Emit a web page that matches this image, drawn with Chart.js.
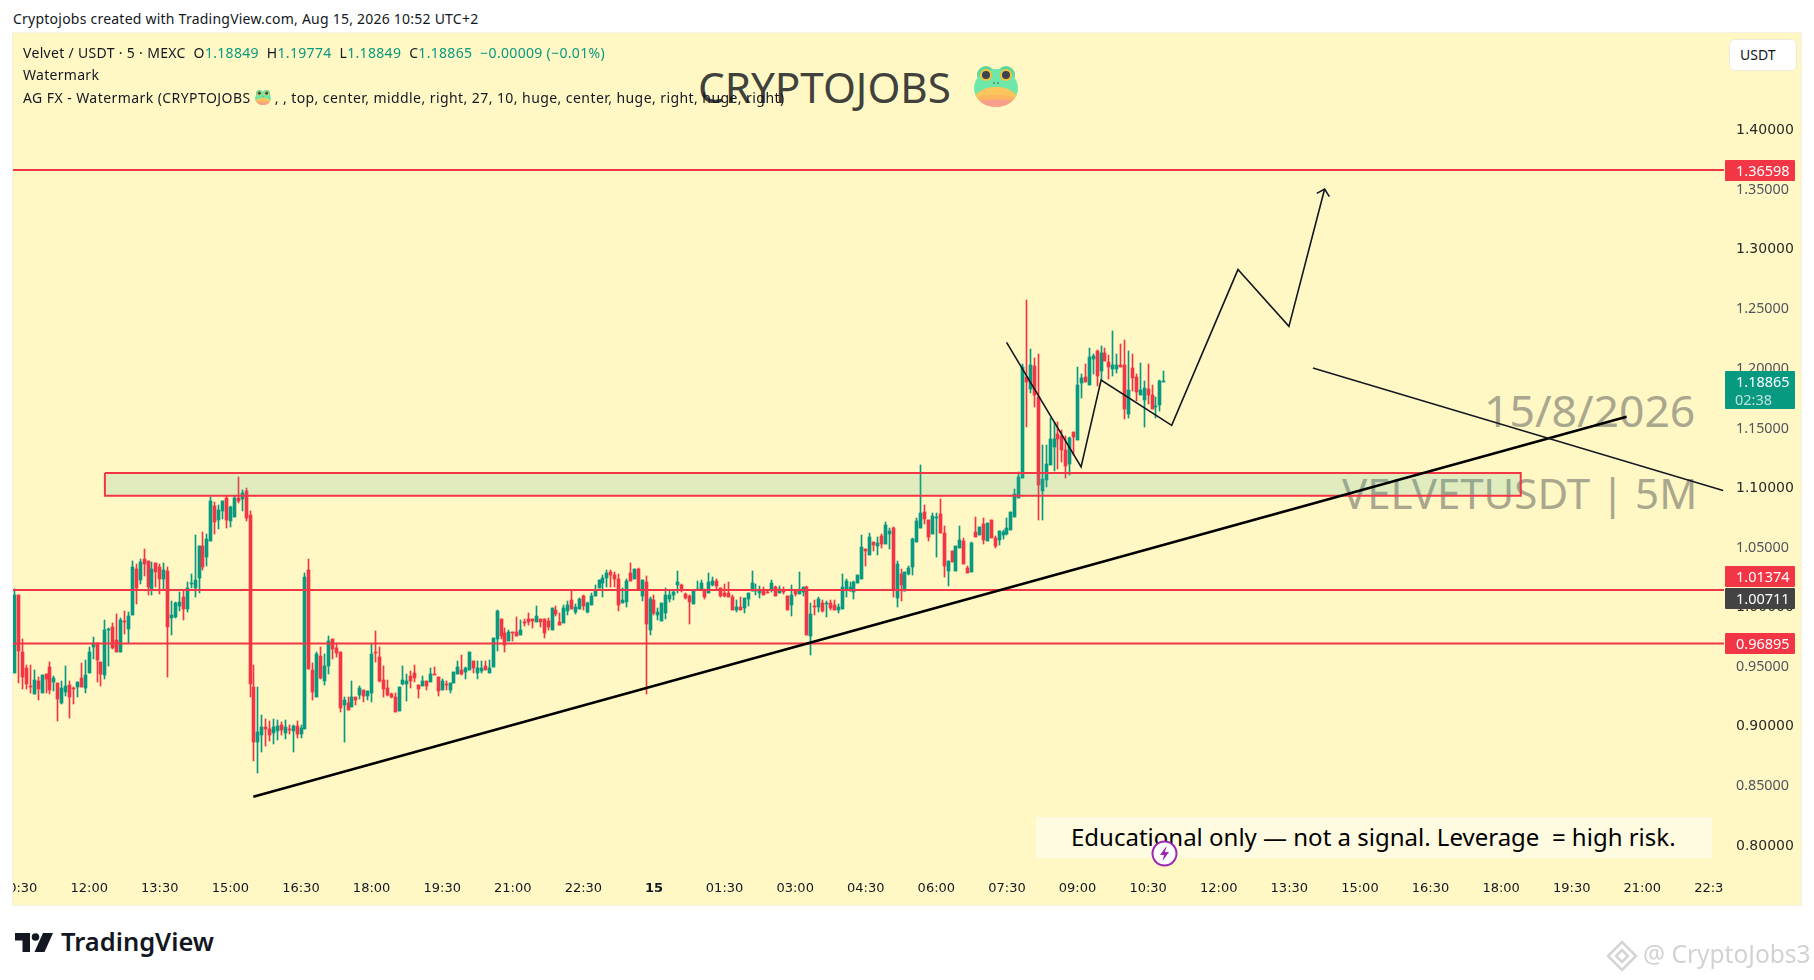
<!DOCTYPE html>
<html><head><meta charset="utf-8">
<script src="https://cdn.jsdelivr.net/npm/chart.js@4"></script>
<style>
html,body{margin:0;padding:0;background:#fff;width:1814px;height:980px;overflow:hidden}
.t{position:absolute;white-space:pre;line-height:1;font-family:"Noto Sans",sans-serif;color:#131722}
#panel{position:absolute;left:13px;top:33px;width:1788px;height:872px;background:#fff8c4;box-shadow:0 0 0 1px #f4f2e6}
canvas{position:absolute;left:13px;top:33px}
.b{position:absolute;left:1725px;width:70px;color:#fff;font:14.5px "Noto Sans",sans-serif;text-align:left;box-sizing:border-box;padding-left:11px;border-radius:1px}
.up{color:#089981}
</style></head><body>
<div id="panel"></div>
<div class="t" style="left:13px;top:12px;font-size:14px;letter-spacing:.23px" id="hdr">Cryptojobs created with TradingView.com, Aug 15, 2026 10:52 UTC+2</div>
<div class="t" style="left:698px;top:66px;font-size:42.2px;color:#40413c">CRYPTOJOBS</div>
<div class="t" style="left:1484px;top:388px;font-size:44.5px;color:#a9a78e">15/8/2026</div>
<div class="t" style="left:1342px;top:472px;font-size:42px;color:#a9a78e">VELVETUSDT | 5M</div>
<canvas id="c" width="1788" height="872" style="width:1788px;height:872px"></canvas>
<div style="position:absolute;left:1724px;top:875px;width:77px;height:30px;background:#fff8c4"></div>
<div class="t" style="left:23px;top:46px;font-size:14px;letter-spacing:.32px">Velvet / USDT · 5 · MEXC  O<span class="up">1.18849</span>  H<span class="up">1.19774</span>  L<span class="up">1.18849</span>  C<span class="up">1.18865</span>  <span class="up">−0.00009 (−0.01%)</span></div>
<div class="t" style="left:23px;top:68px;font-size:14px;letter-spacing:.3px">Watermark</div>
<div class="t" style="left:23px;top:90px;font-size:14px;letter-spacing:.43px">AG FX - Watermark (CRYPTOJOBS <svg width="16" height="15" viewBox="0 0 44 41" style="vertical-align:-2px"><use href="#frog"/></svg> , , top, center, middle, right, 27, 10, huge, center, huge, right, huge, right)</div>
<svg style="position:absolute;left:974px;top:66px" width="44" height="41" viewBox="0 0 44 41">
<defs><g id="frog"><clipPath id="fc"><ellipse cx="22" cy="22" rx="22" ry="19"/></clipPath>
<circle cx="12" cy="9" r="9" fill="#5fd59a"/><circle cx="32" cy="9" r="9" fill="#5fd59a"/>
<ellipse cx="22" cy="22" rx="22" ry="19" fill="#6ee7a8"/>
<g clip-path="url(#fc)"><path d="M0 30 Q10 20 22 21 Q34 20 44 30 V41 H0Z" fill="#fcc65c"/><path d="M0 31 Q22 27 44 31 V41 H0Z" fill="#fbb65f"/><path d="M0 35 Q22 32 44 35 V41 H0Z" fill="#f9a08c"/></g>
<circle cx="12" cy="9" r="6" fill="#f2c23e"/><circle cx="32" cy="9" r="6" fill="#f2c23e"/><circle cx="12" cy="9" r="4" fill="#3d4450"/><circle cx="32" cy="9" r="4" fill="#3d4450"/>
<circle cx="20" cy="17" r=".7" fill="#333"/><circle cx="24" cy="17" r=".7" fill="#333"/></g></defs>
<use href="#frog"/></svg>
<div style="position:absolute;left:1729px;top:39px;width:68px;height:32px;background:#fff;border:1px solid #eeeadb;border-radius:6px;box-sizing:border-box"></div>
<div class="t" style="left:1740px;top:48px;font-size:14px">USDT</div>
<div style="position:absolute;left:1036px;top:817px;width:676px;height:41px;background:#fffbe0"></div>
<div class="t" style="left:1071px;top:825px;font-size:24px;color:#000">Educational only — not a signal. Leverage  = high risk.</div>
<svg style="position:absolute;left:1151px;top:840px" width="27" height="27" viewBox="0 0 27 27"><circle cx="13.5" cy="13.5" r="12" fill="#fff" stroke="#9c27b0" stroke-width="2"/><path d="M15.5 6 L9 15 H13 L11.5 21 L18 12 H14Z" fill="#9c27b0"/></svg>
<div id="badges"></div>
<svg style="position:absolute;left:15px;top:933px" width="38" height="20" viewBox="0 0 38 20"><path d="M0 0H15V19H7.5V7.5H0Z" fill="#131722"/><circle cx="20.5" cy="4" r="3.8" fill="#131722"/><path d="M28 0H38L29.5 19H19.5Z" fill="#131722"/></svg>
<div class="t" style="left:61px;top:929px;font-size:25.5px;font-weight:600;color:#131722">TradingView</div>
<svg style="position:absolute;left:1606px;top:940px" width="32" height="32" viewBox="0 0 32 32" fill="none" stroke="#d4d4d4" stroke-width="2.5"><path d="M16 2 L30 16 L16 30 L2 16Z M16 10 L22 16 L16 22 L10 16Z"/></svg>
<div class="t" style="left:1643px;top:942px;font-size:24.5px;color:#d2d2d2">@ CryptoJobs3</div>
<script>
const opens=[.9444,1.0095,.9620,.9481,.9333,.9265,.9374,.9277,.9433,.9492,
.9366,.9358,.9187,.9282,.9341,.9319,.9324,.9400,.9316,.9441,
.9659,.9696,.9534,.9425,.9802,.9827,.9718,.9618,.9877,.9810,
.9928,1.0313,1.0221,1.0397,1.0380,1.0146,1.0364,1.0330,1.0230,1.0297,
.9903,.9911,1.0003,1.0079,.9978,1.0188,1.0154,1.0238,1.0506,1.0414,
1.0548,1.0842,1.0724,1.0800,1.0909,1.0716,1.0749,1.0909,1.0900,1.0967,
1.0766,.9324,.8863,.8922,.8989,.8972,.8939,.8955,.9006,.8939,
.8972,.8955,.8997,.8930,.8972,1.0305,.9467,.9240,.9584,.9374,
.9500,.9726,.9651,.9618,.9173,.9190,.9156,.9240,.9257,.9299,
.9249,.9274,.9618,.9576,.9383,.9316,.9265,.9240,.9123,.9349,
.9349,.9416,.9441,.9341,.9333,.9374,.9366,.9433,.9408,.9299,
.9349,.9299,.9358,.9433,.9467,.9450,.9467,.9542,.9441,.9458,
.9500,.9441,.9492,.9726,.9894,.9777,.9710,.9785,.9785,.9760,
.9869,.9894,.9894,.9869,.9894,.9894,.9877,.9802,.9970,.9869,
.9861,.9961,1.0053,.9953,.9978,1.0087,.9953,1.0012,1.0087,1.0154,
1.0196,1.0238,1.0288,1.0263,1.0230,1.0028,1.0037,1.0280,1.0230,1.0313,
1.0087,1.0204,.9802,1.0053,.9928,.9877,.9944,1.0062,1.0095,1.0179,
1.0179,1.0104,1.0087,1.0020,1.0137,1.0137,1.0137,1.0112,1.0179,1.0213,
1.0154,1.0112,1.0112,1.0079,.9970,.9995,.9986,1.0062,1.0129,1.0129,
1.0112,1.0137,1.0120,1.0137,1.0162,1.0112,1.0137,1.0087,1.0012,1.0137,
1.0104,1.0120,1.0162,.9752,1.0003,.9995,1.0028,1.0020,1.0028,1.0012,
.9970,.9978,1.0137,1.0129,1.0120,1.0196,1.0230,1.0481,1.0431,1.0540,
1.0506,1.0590,1.0523,1.0607,1.0657,1.0070,1.0271,1.0129,1.0271,1.0330,
1.0540,1.0657,1.0791,1.0724,1.0607,1.0741,1.0774,1.0615,1.0297,1.0464,
1.0297,1.0489,1.0548,1.0322,1.0288,1.0624,1.0598,1.0691,1.0548,1.0724,
1.0573,1.0556,1.0598,1.0607,1.0640,1.0749,1.0909,1.1076,1.1923,1.1822,
1.2015,1.1755,1.0967,1.1059,1.1185,1.1336,1.1445,1.1428,1.1311,1.1193,
1.1462,1.1395,1.1872,1.1923,1.1856,1.2074,1.2141,1.1973,1.2124,1.2049,
1.1990,1.1990,1.2023,1.2023,1.1613,1.1998,1.1923,1.1772,1.1730,1.1822,
1.1772,1.1671,1.1688,1.18849];
const highs=[1.0143,1.0095,.9724,.9509,.9509,.9467,.9405,.9425,.9433,.9534,
.9416,.9358,.9374,.9500,.9374,.9321,.9366,.9523,.9550,.9659,
.9743,.9696,.9534,.9886,.9819,.9861,.9936,.9903,.9961,.9953,
1.0380,1.0355,1.0397,1.0481,1.0380,1.0372,1.0364,1.0355,1.0364,1.0330,
1.0045,1.0037,1.0120,1.0137,1.0204,1.0271,1.0598,1.0506,1.0624,1.0607,
1.0917,1.0875,1.0850,1.0883,1.0925,1.0842,1.0925,1.1085,1.0976,1.0992,
1.0800,.9509,.9324,.9089,.9056,.9039,.9056,.9047,.9031,.9047,
.9006,.9006,.9039,.9006,1.0280,1.0397,.9525,.9618,.9659,.9601,
.9752,.9726,.9696,.9618,.9240,.9240,.9374,.9240,.9333,.9299,
.9290,.9685,.9794,.9659,.9500,.9383,.9274,.9274,.9324,.9500,
.9433,.9458,.9509,.9341,.9416,.9374,.9483,.9492,.9408,.9391,
.9374,.9358,.9450,.9542,.9592,.9492,.9618,.9542,.9542,.9542,
.9542,.9550,.9735,.9970,.9894,.9819,.9802,.9785,.9911,.9886,
.9894,.9944,.9894,1.0003,.9894,.9894,.9903,.9986,1.0003,.9944,
1.0012,1.0045,1.0137,1.0020,1.0070,1.0095,1.0037,1.0112,1.0179,1.0221,
1.0263,1.0305,1.0305,1.0288,1.0271,1.0154,1.0230,1.0364,1.0313,1.0322,
1.0221,1.0255,1.0079,1.0095,.9986,1.0028,1.0154,1.0137,1.0137,1.0297,
1.0188,1.0112,1.0095,1.0137,1.0213,1.0221,1.0146,1.0280,1.0246,1.0230,
1.0154,1.0188,1.0204,1.0095,1.0053,1.0079,1.0070,1.0112,1.0297,1.0188,
1.0171,1.0162,1.0137,1.0221,1.0171,1.0171,1.0162,1.0087,1.0179,1.0137,
1.0288,1.0162,1.0171,1.0028,1.0053,1.0079,1.0053,1.0045,1.0053,1.0053,
1.0020,1.0271,1.0230,1.0204,1.0213,1.0263,1.0598,1.0481,1.0615,1.0540,
1.0582,1.0607,1.0707,1.0657,1.0665,1.0380,1.0313,1.0288,1.0339,1.0573,
1.0741,1.1185,1.0850,1.0724,1.0783,1.0783,1.0900,1.0674,1.0380,1.0464,
1.0506,1.0674,1.0573,1.0339,1.0540,1.0749,1.0665,1.0741,1.0699,1.0724,
1.0590,1.0632,1.0640,1.0741,1.0791,1.0984,1.1127,1.2032,1.2569,1.2158,
1.2082,1.2116,1.1353,1.1353,1.1579,1.1546,1.1546,1.1478,1.1428,1.1420,
1.1462,1.2007,1.1948,1.2032,1.2166,1.2116,1.2149,1.2183,1.2166,1.2107,
1.2308,1.2116,1.2199,1.2233,1.2141,1.2116,1.1948,1.2040,1.1889,1.2032,
1.1856,1.1755,1.1898,1.19774];
const lows=[.9444,.9355,.9305,.9305,.9277,.9265,.9215,.9277,.9271,.9265,
.9293,.9042,.9182,.9249,.9064,.9182,.9240,.9324,.9277,.9441,
.9559,.9366,.9333,.9391,.9500,.9643,.9618,.9618,.9768,.9696,
.9928,1.0020,1.0188,1.0255,1.0095,1.0095,1.0162,1.0104,1.0137,.9408,
.9760,.9903,.9961,.9886,.9953,1.0154,1.0079,1.0112,1.0305,1.0339,
1.0548,1.0607,1.0649,1.0733,1.0657,1.0665,1.0749,1.0867,1.0800,1.0716,
.9240,.8704,.8603,.8779,.8829,.8871,.8846,.8880,.8922,.8888,
.8930,.8779,.8897,.8897,.8972,.9475,.9215,.9240,.9391,.9341,
.9433,.9559,.9576,.9115,.8863,.9131,.9156,.9173,.9224,.9198,
.9215,.9198,.9534,.9366,.9240,.9249,.9232,.9115,.9123,.9341,
.9207,.9316,.9366,.9232,.9333,.9299,.9366,.9425,.9249,.9299,
.9299,.9274,.9358,.9433,.9425,.9391,.9467,.9441,.9391,.9441,
.9467,.9441,.9492,.9626,.9726,.9618,.9710,.9710,.9752,.9760,
.9835,.9844,.9819,.9869,.9827,.9735,.9802,.9802,.9919,.9844,
.9861,.9928,.9978,.9936,.9978,.9970,.9944,1.0012,1.0087,1.0154,
1.0079,1.0162,1.0162,1.0162,.9961,1.0028,.9995,1.0213,1.0230,1.0137,
1.0045,.9265,.9760,.9928,.9886,.9877,.9894,1.0037,1.0053,1.0112,
1.0120,1.0062,.9852,1.0020,1.0137,1.0137,1.0062,1.0112,1.0171,1.0137,
1.0079,1.0079,1.0079,.9970,.9953,.9970,.9944,1.0003,1.0129,1.0095,
1.0070,1.0095,1.0112,1.0120,1.0087,1.0112,1.0104,.9970,.9919,1.0087,
1.0104,1.0087,.9760,.9592,.9928,.9953,.9953,.9911,.9970,.9970,
.9944,.9978,1.0079,1.0129,1.0062,1.0196,1.0230,1.0339,1.0431,1.0464,
1.0431,1.0489,1.0523,1.0481,1.0079,.9995,1.0045,1.0129,1.0263,1.0263,
1.0540,1.0657,1.0691,1.0548,1.0607,1.0414,1.0615,1.0246,1.0171,1.0372,
1.0297,1.0489,1.0355,1.0280,1.0288,1.0582,1.0598,1.0523,1.0548,1.0573,
1.0489,1.0515,1.0565,1.0598,1.0640,1.0749,1.0909,1.1076,1.1504,1.1789,
1.1671,1.0724,1.0724,1.1001,1.1185,1.1135,1.1152,1.1210,1.1076,1.1101,
1.1269,1.1395,1.1747,1.1881,1.1856,1.1948,1.1847,1.1898,1.2057,1.1906,
1.1931,1.1956,1.2007,1.1571,1.1579,1.1805,1.1722,1.1772,1.1504,1.1696,
1.1655,1.1579,1.1638,1.18849];
const closes=[1.0095,.9629,.9411,.9349,.9324,.9383,.9307,.9425,.9391,.9299,
.9400,.9224,.9316,.9333,.9240,.9310,.9366,.9324,.9425,.9618,
.9696,.9550,.9433,.9802,.9810,.9651,.9618,.9886,.9869,.9919,
1.0330,1.0154,1.0372,1.0355,1.0162,1.0313,1.0288,1.0230,1.0305,.9827,
.9928,1.0028,1.0037,.9978,1.0154,1.0196,1.0221,1.0506,1.0330,1.0565,
1.0883,1.0707,1.0808,1.0883,1.0724,1.0833,1.0909,1.0883,1.0950,1.0741,
.9349,.8863,.8947,.8989,.8972,.8922,.8989,.8997,.8964,.8989,
.8964,.8997,.8930,.8980,1.0246,.9475,.9282,.9601,.9400,.9500,
.9710,.9643,.9609,.9148,.9215,.9131,.9240,.9215,.9316,.9249,
.9290,.9601,.9609,.9374,.9307,.9257,.9240,.9115,.9324,.9383,
.9374,.9374,.9400,.9307,.9374,.9333,.9433,.9425,.9290,.9374,
.9341,.9358,.9450,.9492,.9433,.9483,.9618,.9483,.9483,.9483,
.9467,.9483,.9735,.9961,.9752,.9676,.9785,.9777,.9752,.9802,
.9861,.9869,.9877,.9919,.9869,.9777,.9827,.9986,.9936,.9844,
.9986,1.0012,.9978,.9995,1.0062,1.0003,1.0028,1.0087,1.0137,1.0221,
1.0238,1.0280,1.0263,1.0230,1.0012,1.0053,1.0213,1.0213,1.0313,1.0137,
1.0221,.9852,1.0062,.9944,.9953,1.0028,1.0095,1.0095,1.0120,1.0204,
1.0137,1.0070,1.0037,1.0129,1.0146,1.0196,1.0079,1.0204,1.0213,1.0171,
1.0087,1.0087,1.0079,.9970,.9995,.9970,1.0070,1.0112,1.0196,1.0137,
1.0137,1.0095,1.0112,1.0196,1.0087,1.0146,1.0120,.9970,1.0095,1.0104,
1.0129,1.0162,.9760,.9936,.9995,1.0062,.9961,1.0028,.9986,.9970,
.9995,1.0162,1.0213,1.0162,1.0204,1.0263,1.0498,1.0464,1.0582,1.0515,
1.0531,1.0523,1.0682,1.0632,1.0137,1.0355,1.0179,1.0288,1.0322,1.0565,
1.0716,1.0783,1.0733,1.0582,1.0758,1.0749,1.0615,1.0339,1.0380,1.0372,
1.0506,1.0556,1.0355,1.0280,1.0531,1.0582,1.0665,1.0556,1.0699,1.0573,
1.0506,1.0632,1.0624,1.0657,1.0791,1.0942,1.1085,1.2007,1.1881,1.2024,
1.1772,1.1017,1.1068,1.1193,1.1403,1.1403,1.1403,1.1311,1.1177,1.1411,
1.1420,1.1856,1.1914,1.1881,1.2090,1.2099,1.1931,1.2124,1.2057,1.2007,
1.2023,1.2023,1.2007,1.1655,1.1814,1.1914,1.1797,1.1814,1.1831,1.1772,
1.1655,1.1680,1.1889,1.18865];

const priceTicks=[1.40,1.35,1.30,1.25,1.20,1.15,1.10,1.05,1.00,.95,.90,.85,.80];
const strongTicks=[1.40,1.30,1.10,.90,.80,1.00];
const timeLabels=["10:30","12:00","13:30","15:00","16:30","18:00","19:30","21:00","22:30","15","01:30","03:00","04:30","06:00","07:30","09:00","10:30","12:00","13:30","15:00","16:30","18:00","19:30","21:00","22:30"];
const timeTickIdx=timeLabels.map((_,k)=>1+18*k);
const levels=[1.36598,1.01374,.96895];
const zoneX=[23,384], zoneY=[1.0927,1.1118];
const trendX=[60.84,411], trendY=[.8405,1.159];
const waveX=[252.9,271.9,277,295,311.9,324.9,334], waveY=[1.2214,1.1169,1.1898,1.1518,1.2824,1.2348,1.3499];
const arrowX=[332,334,335.2], arrowY=[1.3463,1.3499,1.3435];
const fallX=[331,435.6], fallY=[1.1999,1.0972];
const xRange=[-.433,435.83], yRange=[.77482,1.48074];
const badges=[["1.36598",160,21,"#f23645"],["1.18865\n02:38",371,38,"#089981"],["1.01374",566,21,"#f23645"],["1.00711",588,21,"#434343"],["0.96895",633,21,"#f23645"]];

const UP="#089981",DN="#f23645";
const idx=opens.map((_,i)=>i);
const col=idx.map(i=>closes[i]>=opens[i]?UP:DN);
const pts=(xs,ys)=>xs.map((x,i)=>({x,y:ys[i]}));
const lineDs=(xs,ys,color,w,order,extra)=>Object.assign({type:"scatter",showLine:true,data:pts(xs,ys),borderColor:color,borderWidth:w,pointRadius:0,order,fill:false,tension:0,borderJoinStyle:"miter"},extra||{});

const datasets=[
 {type:"bar",grouped:false,data:idx.map(i=>({x:i,y:[lows[i],highs[i]]})),backgroundColor:col,barThickness:1,order:20},
 {type:"bar",grouped:false,data:idx.map(i=>({x:i,y:[Math.min(opens[i],closes[i]),Math.max(opens[i],closes[i])]})),backgroundColor:col,barThickness:3,order:19},
 lineDs([zoneX[0],zoneX[1],zoneX[1],zoneX[0],zoneX[0]],[zoneY[1],zoneY[1],zoneY[0],zoneY[0],zoneY[1]],DN,2,6,{fill:"shape",backgroundColor:"rgba(76,175,161,.17)"}),
 ...levels.map(v=>lineDs(xRange,[v,v],DN,2,5)),
 lineDs(trendX,trendY,"#000",2.6,3),
 lineDs(waveX,waveY,"#131722",1.6,2),
 lineDs(arrowX,arrowY,"#131722",1.6,2),
 lineDs(fallX,fallY,"#131722",1.4,2)
];

const snap={id:"snap",beforeDatasetsDraw(chart){
 chart.getSortedVisibleDatasetMetas().forEach(m=>{ if(m.type!=="bar")return;
  m.data.forEach(el=>{el.x=Math.floor(el.x)+.5;const a=Math.round(el.y),b=Math.round(el.base);el.y=a;el.base=b===a?a+1:b;});});
}};

new Chart(document.getElementById("c"),{
 data:{datasets},
 plugins:[snap],
 options:{responsive:false,animation:false,devicePixelRatio:1,layout:{padding:0},
  plugins:{legend:{display:false},tooltip:{enabled:false}},
  scales:{
   x:{type:"linear",offset:false,min:xRange[0],max:xRange[1],grid:{display:false,drawTicks:false,offset:false},border:{display:false},
    afterBuildTicks(s){s.ticks=timeTickIdx.map(v=>({value:v}));},
    afterFit(s){s.height=30;s.paddingLeft=0;s.paddingRight=0;},
    ticks:{autoSkip:false,maxRotation:0,padding:6,color:"#131722",
     font:c=>({family:"DejaVu Sans",size:13,weight:timeLabels[timeTickIdx.indexOf(c.tick&&c.tick.value)]==="15"?"bold":"normal"}),
     callback:v=>timeLabels[timeTickIdx.indexOf(v)]||""}},
   y:{type:"linear",position:"right",min:yRange[0],max:yRange[1],grid:{display:false,drawTicks:false},border:{display:false},
    afterBuildTicks(s){s.ticks=priceTicks.map(v=>({value:v}));},
    afterFit(s){s.width=77;s.paddingTop=0;s.paddingBottom=0;},
    ticks:{padding:12,autoSkip:false,labelOffset:1,
     color:c=>strongTicks.includes(c.tick&&c.tick.value)?"#2a2a2a":"#50535e",
     font:c=>strongTicks.includes(c.tick&&c.tick.value)?{family:"DejaVu Sans",size:14,weight:"normal"}:{family:"Noto Sans",size:14.3,weight:"normal"},
     callback:v=>v.toFixed(5)}}
  }}
});

const host=document.getElementById("badges");
badges.forEach(([txt,top,h,bg])=>{
 const d=document.createElement("div");d.className="b";d.style.top=top+"px";d.style.height=h+"px";d.style.background=bg;
 const parts=txt.split("\n");
 d.innerHTML=parts.map((p,i)=>`<div style="line-height:${i?15:21}px;${i?"opacity:.72;margin-left:-1px":""}">${p}</div>`).join("");
 host.appendChild(d);
});
</script>
</body></html>
